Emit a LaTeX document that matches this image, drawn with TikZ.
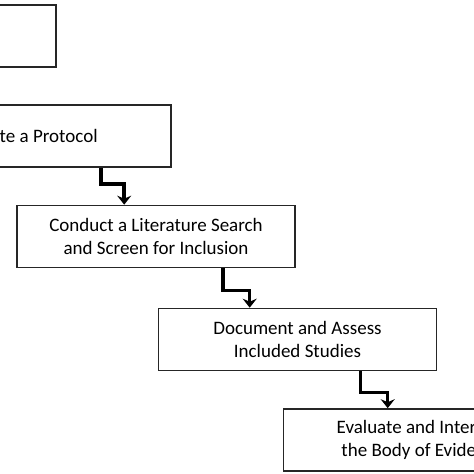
\documentclass[tikz,border=0pt]{standalone}
\usepackage{fontspec}
\setmainfont{Carlito}
\usetikzlibrary{arrows.meta}
\begin{document}
\begin{tikzpicture}[x=1pt, y=1pt,
  stepbox/.style={draw=black!85, line width=1.6pt, fill=white, minimum width=278pt, minimum height=62pt, align=center, font=\fontsize{19}{23}\selectfont},
  flow/.style={line width=3.5pt, -{Stealth[length=9pt,width=14pt,inset=3pt]}}]
  \useasboundingbox (0,0) rectangle (474,474);
  \node [stepbox, minimum width=278pt] (question) at (-83,438) {};
  \node [stepbox, minimum width=272pt] (protocol) at (35,338) {Write a Protocol};
  \node [stepbox] (search) at (156,237.5) {Conduct a Literature Search\\and Screen for Inclusion};
  \node [stepbox] (assess) at (297.5,134.5) {Document and Assess\\Included Studies};
  \node [stepbox] (evaluate) at (422.5,34) {Evaluate and Interpret\\the Body of Evidence};
  \draw [flow] ([xshift=-71pt]protocol.south east) -- ++(0,-16) -| ([xshift=108pt]search.north west);
  \draw [flow] ([xshift=-73pt]search.south east) -- ++(0,-22) -| ([xshift=92pt]assess.north west);
  \draw [flow] ([xshift=-77pt]assess.south east) -- ++(0,-21) -| ([xshift=105pt]evaluate.north west);
\end{tikzpicture}
\end{document}
